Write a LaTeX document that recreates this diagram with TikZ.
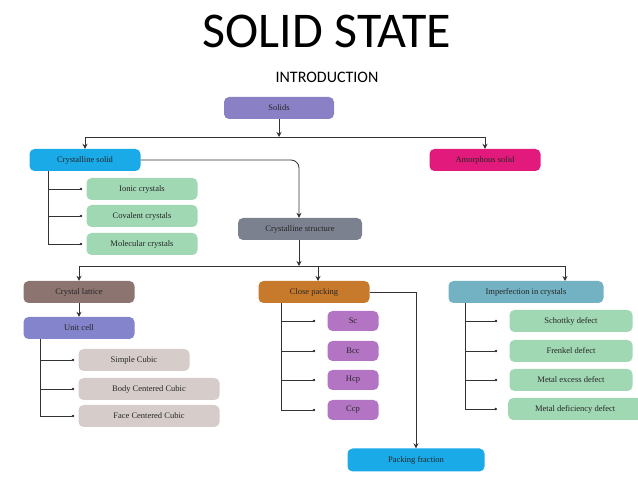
\documentclass[tikz,border=0pt]{standalone}
\usepackage{fontspec}
\setmainfont{Liberation Serif}
\newfontfamily\titlefont{Carlito}
\usetikzlibrary{arrows.meta}
\definecolor{cpurple}{HTML}{8A80C6}
\definecolor{ccyan}{HTML}{1AAAE8}
\definecolor{cmag}{HTML}{E21A7C}
\definecolor{cgreen}{HTML}{A0D8B4}
\definecolor{cgray}{HTML}{7C8190}
\definecolor{cbrown}{HTML}{8C7470}
\definecolor{cunit}{HTML}{8484CC}
\definecolor{cbeige}{HTML}{D6CDCA}
\definecolor{corange}{HTML}{C87A2C}
\definecolor{cviolet}{HTML}{B474C4}
\definecolor{cteal}{HTML}{72B2C2}
\definecolor{cline}{HTML}{333333}
\tikzset{
  bx/.style={rounded corners=5pt, inner sep=0pt, minimum height=22pt, text=black!85, font=\fontsize{8.5}{10}\selectfont},
  ln/.style={draw=cline, line width=0.8pt},
  ar/.style={ln, -{Stealth[length=5pt,width=5pt]}},
  dt/.style={ln, -{Circle[length=2.5pt]}},
}
\begin{document}
\begin{tikzpicture}[x=1pt,y=-1pt]
\useasboundingbox (0,0) rectangle (638,478);
\node[font=\titlefont\fontsize{50}{56}\selectfont] (title) at (327,31) {SOLID STATE};
\node[font=\titlefont\fontsize{16}{18}\selectfont] (intro) at (327,77) {INTRODUCTION};

\node[bx, fill=cpurple, minimum width=110pt] (solids) at (279,108) {Solids};
\node[bx, fill=ccyan, minimum width=111pt] (cs) at (85,160) {Crystalline solid};
\node[bx, fill=cmag, minimum width=111pt] (am) at (485,160) {Amorphous solid};
\node[bx, fill=cgreen, minimum width=111pt] (ion) at (142,189) {Ionic crystals};
\node[bx, fill=cgreen, minimum width=111pt] (cov) at (142,216) {Covalent crystals};
\node[bx, fill=cgreen, minimum width=111pt] (mol) at (142,244) {Molecular crystals};
\node[bx, fill=cgray, minimum width=124pt] (cst) at (300,229) {Crystalline structure};

\node[bx, fill=cbrown, minimum width=111pt] (cl) at (79,292) {Crystal lattice};
\node[bx, fill=cunit, minimum width=111pt] (uc) at (79,328) {Unit cell};
\node[bx, fill=cbeige, minimum width=111pt] (sc1) at (134,360) {Simple Cubic};
\node[bx, fill=cbeige, minimum width=141pt] (bcc1) at (149,389) {Body Centered Cubic};
\node[bx, fill=cbeige, minimum width=141pt] (fcc1) at (149,416) {Face Centered Cubic};

\node[bx, fill=corange, minimum width=111pt] (cp) at (314,292) {Close packing};
\node[bx, fill=cviolet, minimum width=51pt, minimum height=20pt] (sc) at (353,321) {Sc};
\node[bx, fill=cviolet, minimum width=51pt, minimum height=20pt] (bcc) at (353,351) {Bcc};
\node[bx, fill=cviolet, minimum width=51pt, minimum height=20pt] (hcp) at (353,380) {Hcp};
\node[bx, fill=cviolet, minimum width=51pt, minimum height=20pt] (ccp) at (353,410) {Ccp};
\node[bx, fill=ccyan, minimum width=137pt, minimum height=23pt] (pf) at (416,460) {Packing fraction};

\node[bx, fill=cteal, minimum width=155pt] (imp) at (526,292) {Imperfection in crystals};
\node[bx, fill=cgreen, minimum width=123pt] (sd) at (571,321) {Schottky defect};
\node[bx, fill=cgreen, minimum width=123pt] (fd) at (571,351) {Frenkel defect};
\node[bx, fill=cgreen, minimum width=123pt] (me) at (571,380) {Metal excess defect};
\node[bx, fill=cgreen, minimum width=134pt, anchor=west] (md) at (508,409) {Metal deficiency defect};

% Solids branch
\coordinate (j1) at (279,137);
\draw[ar] (solids.south) -- (j1);
\draw[ar] (j1) -- (85,137) -- (cs.north);
\draw[ar] (j1) -- (485,137) -- (am.north);
\draw[ar, rounded corners=8pt] (cs.east) -- (299,160) -- (cst.north -| 299,0);
% crystalline solid children
\draw[ln] (48,171) -- (48,244);
\draw[dt] (48,189) -- ([xshift=-4pt]ion.west);
\draw[dt] (48,216) -- ([xshift=-4pt]cov.west);
\draw[dt] (48,244) -- ([xshift=-4pt]mol.west);
% crystalline structure
\coordinate (j2) at (299,266);
\draw[ar] (cst.south -| j2) -- (j2);
\draw[ar] (j2) -- (79,266) -- (cl.north);
\draw[ar] (j2) -- (318,266) -- (318,281);
\draw[ar] (j2) -- (565,266) -- (565,281);
\draw[ar] (cl.south) -- (uc.north);
% unit cell children
\draw[ln] (40,339) -- (40,416);
\draw[dt] (40,360) -- ([xshift=-4pt]sc1.west);
\draw[dt] (40,389) -- ([xshift=-4pt]bcc1.west);
\draw[dt] (40,416) -- ([xshift=-4pt]fcc1.west);
% close packing children
\draw[ln] (281,303) -- (281,410);
\draw[dt] (281,321) -- ([xshift=-12pt]sc.west);
\draw[dt] (281,351) -- ([xshift=-12pt]bcc.west);
\draw[dt] (281,380) -- ([xshift=-12pt]hcp.west);
\draw[dt] (281,410) -- ([xshift=-12pt]ccp.west);
\draw[ar] (cp.east) -- (416,292) -- (pf.north);
% imperfection children
\draw[ln] (465,303) -- (465,409);
\draw[dt] (465,321) -- ([xshift=-12pt]sd.west);
\draw[dt] (465,351) -- ([xshift=-12pt]fd.west);
\draw[dt] (465,380) -- ([xshift=-12pt]me.west);
\draw[dt] (465,409) -- ([xshift=-11pt]md.west);
\end{tikzpicture}
\end{document}
